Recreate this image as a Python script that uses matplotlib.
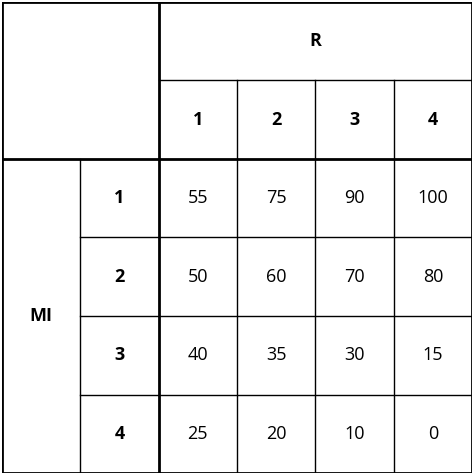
import matplotlib
matplotlib.use("Agg")
import matplotlib.pyplot as plt

r_labels = ["1", "2", "3", "4"]
mi_labels = ["1", "2", "3", "4"]
values = [
    [55, 75, 90, 100],
    [50, 60, 70, 80],
    [40, 35, 30, 15],
    [25, 20, 10, 0],
]

fig = plt.figure(figsize=(4.74, 4.75), dpi=100)
ax = fig.add_axes([0.004, 0.004, 0.992, 0.992])
ax.set_xlim(0, 6)
ax.set_ylim(6, 0)
ax.axis("off")

font = "Open Sans"
thin, thick = 1.0, 2.0

# grid lines
for i in range(1, 6):
    # vertical lines
    if i == 1:
        ax.plot([i, i], [2, 6], color="black", lw=thin)
    elif i == 2:
        ax.plot([i, i], [0, 6], color="black", lw=thick)
    else:
        ax.plot([i, i], [1, 6], color="black", lw=thin)
    # horizontal lines
    if i == 1:
        ax.plot([2, 6], [i, i], color="black", lw=thin)
    elif i == 2:
        ax.plot([0, 6], [i, i], color="black", lw=thick)
    else:
        ax.plot([1, 6], [i, i], color="black", lw=thin)
ax.plot([0, 6, 6, 0, 0], [0, 0, 6, 6, 0], color="black", lw=thick)

ax.text(4, 0.5, "R", ha="center", va="center", fontsize=13, fontweight="bold", family=font)
ax.text(0.5, 4, "MI", ha="center", va="center", fontsize=13, fontweight="bold", family=font)
for j, lab in enumerate(r_labels):
    ax.text(2.5 + j, 1.5, lab, ha="center", va="center", fontsize=13, fontweight="bold", family=font)
for i, lab in enumerate(mi_labels):
    ax.text(1.5, 2.5 + i, lab, ha="center", va="center", fontsize=13, fontweight="bold", family=font)
for i, row in enumerate(values):
    for j, v in enumerate(row):
        ax.text(2.5 + j, 2.5 + i, str(v), ha="center", va="center", fontsize=13, family=font)

fig.savefig("out.png", dpi=100)
